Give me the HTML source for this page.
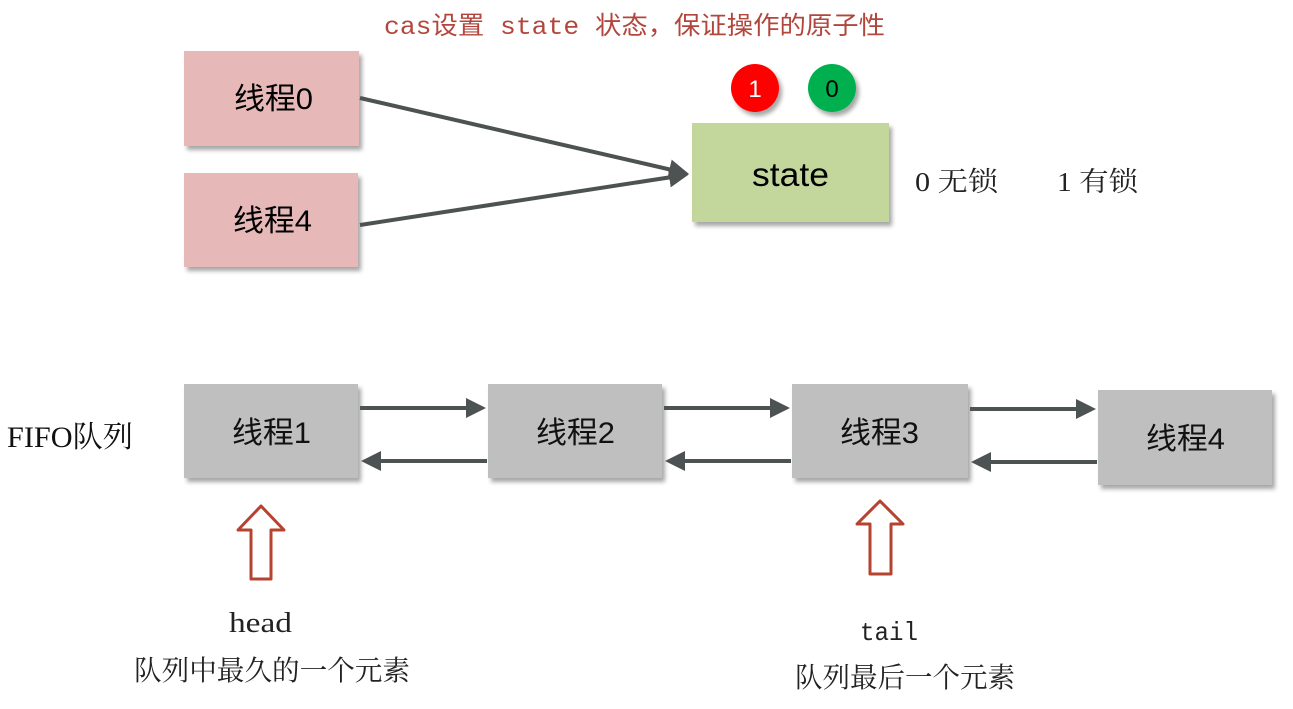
<!DOCTYPE html>
<html><head><meta charset="utf-8"><style>
html,body{margin:0;padding:0;background:#fff;width:1293px;height:709px;overflow:hidden}
svg{display:block}
.cn{font-family:"Liberation Sans","Noto Sans CJK SC",sans-serif}
.sf{font-family:"Liberation Serif","Noto Serif CJK SC","Noto Sans CJK SC",serif}
.mono{font-family:"Liberation Mono","Noto Sans CJK SC",monospace}
</style></head><body>
<svg width="1293" height="709" viewBox="0 0 1293 709" xmlns="http://www.w3.org/2000/svg">
<defs>
<filter id="sh" x="-10%" y="-10%" width="130%" height="140%"><feDropShadow dx="3" dy="4" stdDeviation="2" flood-color="#000" flood-opacity="0.35"/></filter>
<marker id="ah" markerWidth="5" markerHeight="5" refX="4" refY="2.5" orient="auto" markerUnits="strokeWidth"><path d="M0,0 L5,2.5 L0,5 z" fill="#4d5352"/></marker>
</defs>
<text x="384" y="34" textLength="501" lengthAdjust="spacingAndGlyphs" class="mono" font-size="25" fill="#b3463c">cas设置 state 状态，保证操作的原子性</text>

<rect x="184" y="51" width="175" height="95" fill="#e6b8b7" filter="url(#sh)"/>
<text x="234" y="109" textLength="79" lengthAdjust="spacingAndGlyphs" class="cn" font-size="30" fill="#000">线程0</text>
<rect x="184" y="173" width="174" height="94" fill="#e6b8b7" filter="url(#sh)"/>
<text x="233" y="231" textLength="79" lengthAdjust="spacingAndGlyphs" class="cn" font-size="30" fill="#000">线程4</text>

<line x1="360" y1="98" x2="685" y2="173" stroke="#4d5352" stroke-width="4" marker-end="url(#ah)"/>
<line x1="360" y1="225" x2="685" y2="175" stroke="#4d5352" stroke-width="4" marker-end="url(#ah)"/>

<rect x="692" y="123" width="197" height="99" fill="#c3d69b" filter="url(#sh)"/>
<text x="752" y="186" textLength="77" lengthAdjust="spacingAndGlyphs" class="cn" font-size="33" fill="#000">state</text>

<circle cx="755" cy="88" r="24" fill="#ff0000" filter="url(#sh)"/>
<text x="755" y="97" text-anchor="middle" class="cn" font-size="24" fill="#fff">1</text>
<circle cx="832" cy="88" r="24" fill="#00b050" filter="url(#sh)"/>
<text x="832" y="97" text-anchor="middle" class="cn" font-size="24" fill="#000">0</text>

<text x="915" y="191" textLength="83" lengthAdjust="spacingAndGlyphs" class="sf" font-size="27" fill="#222">0 无锁</text>
<text x="1057" y="191" textLength="81" lengthAdjust="spacingAndGlyphs" class="sf" font-size="27" fill="#222">1 有锁</text>

<text x="7" y="447" textLength="126" lengthAdjust="spacingAndGlyphs" class="sf" font-size="30" fill="#111">FIFO队列</text>

<g filter="url(#sh)">
<rect x="184" y="384" width="174" height="94" fill="#bfbfbf"/>
<rect x="488" y="384" width="174" height="94" fill="#bfbfbf"/>
<rect x="792" y="384" width="176" height="94" fill="#bfbfbf"/>
<rect x="1098" y="390" width="174" height="95" fill="#bfbfbf"/>
</g>
<text x="232" y="443" textLength="79" lengthAdjust="spacingAndGlyphs" class="cn" font-size="30" fill="#111">线程1</text>
<text x="536" y="443" textLength="79" lengthAdjust="spacingAndGlyphs" class="cn" font-size="30" fill="#111">线程2</text>
<text x="840" y="443" textLength="79" lengthAdjust="spacingAndGlyphs" class="cn" font-size="30" fill="#111">线程3</text>
<text x="1146" y="449" textLength="79" lengthAdjust="spacingAndGlyphs" class="cn" font-size="30" fill="#111">线程4</text>

<g stroke="#4d5352" stroke-width="4">
<line x1="360" y1="408" x2="482" y2="408" marker-end="url(#ah)"/>
<line x1="487" y1="461" x2="365" y2="461" marker-end="url(#ah)"/>
<line x1="664" y1="408" x2="786" y2="408" marker-end="url(#ah)"/>
<line x1="791" y1="461" x2="669" y2="461" marker-end="url(#ah)"/>
<line x1="970" y1="409" x2="1092" y2="409" marker-end="url(#ah)"/>
<line x1="1097" y1="462" x2="975" y2="462" marker-end="url(#ah)"/>
</g>

<path d="M261,506 L284,530 L271,530 L271,579 L251,579 L251,530 L238,530 Z" fill="#fff" stroke="#b5432f" stroke-width="3" stroke-linejoin="round"/>
<path d="M880,501 L903,524 L891,524 L891,574 L870,574 L870,524 L857,524 Z" fill="#fff" stroke="#b5432f" stroke-width="3" stroke-linejoin="round"/>

<text x="229" y="632" textLength="63" lengthAdjust="spacingAndGlyphs" class="sf" font-size="29" fill="#222">head</text>
<text x="134" y="680" textLength="276" lengthAdjust="spacingAndGlyphs" class="sf" font-size="28" fill="#222">队列中最久的一个元素</text>
<text x="860" y="640" textLength="58" lengthAdjust="spacingAndGlyphs" class="mono" font-size="26" fill="#222">tail</text>
<text x="795" y="687" textLength="220" lengthAdjust="spacingAndGlyphs" class="sf" font-size="28" fill="#222">队列最后一个元素</text>
</svg>
</body></html>
